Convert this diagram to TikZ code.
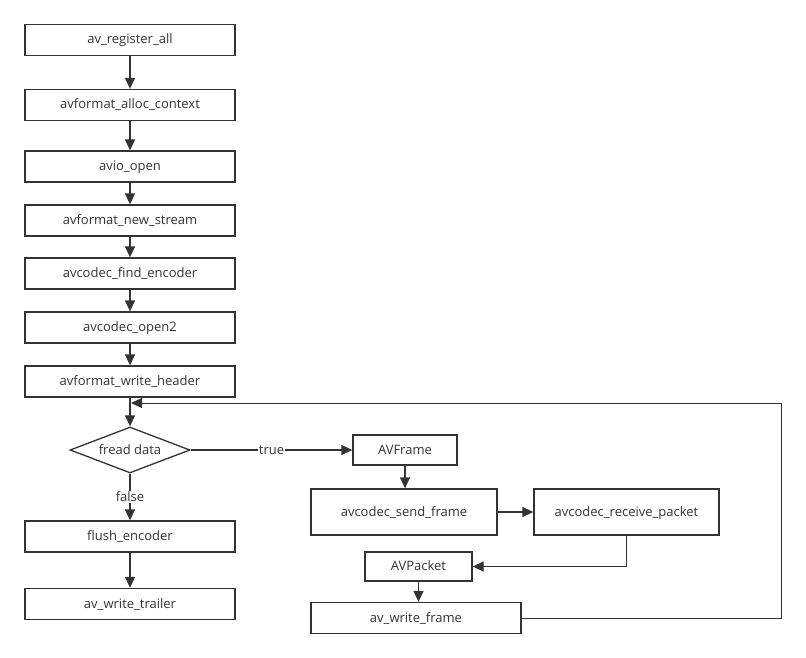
\documentclass[tikz,border=0pt]{standalone}
\usepackage{fontspec}
\setmainfont{Open Sans}
\usetikzlibrary{positioning}
\usetikzlibrary{arrows.meta}
\usetikzlibrary{shapes.geometric}
\definecolor{linegray}{HTML}{333333}

\begin{document}
\begin{tikzpicture}[
  x=1pt, y=-1pt,
  font=\fontsize{13}{15}\selectfont,
  every node/.style={text=linegray},
  stepbox/.style={draw=linegray,line width=1.3pt,rectangle,minimum height=31pt,inner sep=0pt,text height=9pt,text depth=1pt},
  bigbox/.style={stepbox,minimum height=46pt},
  choice/.style={draw=linegray,line width=1.3pt,diamond,aspect=2.6,minimum width=120pt,minimum height=46pt,inner sep=0pt,text height=9pt,text depth=1pt},
  flow/.style={draw=linegray,line width=1.3pt,-{Triangle[length=11pt,width=10pt]}},
  loopline/.style={draw=linegray,line width=1pt,-{Triangle[length=11pt,width=10pt]}}
]
\useasboundingbox (0,0) rectangle (806,658);

% main column
\node[stepbox, minimum width=210pt] (reg) at (130,40) {av\_register\_all};
\node[stepbox, minimum width=210pt] (alloc) at (130,105) {avformat\_alloc\_context};
\node[stepbox, minimum width=210pt] (open) at (130,166.5) {avio\_open};
\node[stepbox, minimum width=210pt] (stream) at (130,220.5) {avformat\_new\_stream};
\node[stepbox, minimum width=210pt] (enc) at (130,273.5) {avcodec\_find\_encoder};
\node[stepbox, minimum width=210pt] (open2) at (130,327.5) {avcodec\_open2};
\node[stepbox, minimum width=210pt] (header) at (130,381.5) {avformat\_write\_header};

\node[choice] (fread) at (130,450) {fread data};

\node[stepbox, minimum width=210pt] (flush) at (130,536.5) {flush\_encoder};
\node[stepbox, minimum width=210pt] (trailer) at (130,604) {av\_write\_trailer};

% encode loop
\node[stepbox, minimum width=104pt, minimum height=30pt] (frame) at (405,450) {AVFrame};
\node[bigbox, minimum width=186pt] (send) at (404,512) {avcodec\_send\_frame};
\node[bigbox, minimum width=185pt] (recv) at (626.5,512) {avcodec\_receive\_packet};
\node[stepbox, minimum width=107pt, minimum height=29pt] (packet) at (418.5,566.5) {AVPacket};
\node[stepbox, minimum width=210pt] (write) at (416,618) {av\_write\_frame};

\coordinate (back) at (131,403);

\path (reg) edge[flow] (alloc)
(alloc) edge[flow] (open)
(open) edge[flow] (stream)
(stream) edge[flow] (enc)
(enc) edge[flow] (open2)
(open2) edge[flow] (header)
(header) edge[flow] (fread)
(flush) edge[flow] (trailer)
;
\draw[flow] (fread.east) -- node[fill=white, inner sep=1pt] {true} (frame.west);
\draw[flow] (fread.south) -- node[fill=white, inner sep=1pt] {false} (flush.north);

\draw[flow] (frame.south) -- (frame.south |- send.north);
\draw[flow] (send.east) -- (recv.west);
\draw[flow] (recv.south) |- (packet.east);
\draw[flow] (packet.south) -- (packet.south |- write.north);
\draw[loopline] (write.east) -- (781,618) -- (781,403) -- (back);

\end{tikzpicture}
\end{document}
